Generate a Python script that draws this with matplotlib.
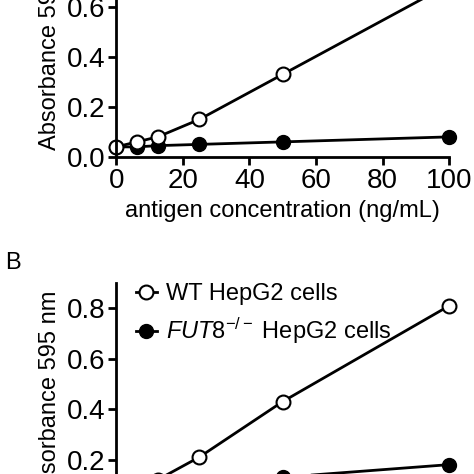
import matplotlib
matplotlib.use("Agg")
import matplotlib.pyplot as plt

plt.rcParams['font.family'] = ['Liberation Sans', 'DejaVu Sans']
plt.rcParams['mathtext.fontset'] = 'custom'
plt.rcParams['mathtext.rm'] = 'Liberation Sans'
plt.rcParams['mathtext.it'] = 'Liberation Sans:italic'

# antigen concentration (ng/mL)
conc = [0, 6.25, 12.5, 25, 50, 100]
# panel A
wt_a = [0.04, 0.06, 0.08, 0.15, 0.33, 0.69]
ko_a = [0.04, 0.04, 0.045, 0.05, 0.06, 0.08]
# panel B
wt_b = [0.04, 0.08, 0.12, 0.21, 0.43, 0.81]
ko_b = [0.04, 0.06, 0.08, 0.10, 0.13, 0.18]
yticks = [0.0, 0.2, 0.4, 0.6, 0.8]
xticks = [0, 20, 40, 60, 80, 100]

fig = plt.figure(figsize=(4.74, 4.74), dpi=100)


def style(ax):
    for s in ['top', 'right']:
        ax.spines[s].set_visible(False)
    for s in ['left', 'bottom']:
        ax.spines[s].set_linewidth(2)
    ax.set_xlim(0, 100)
    ax.set_ylim(0, 0.9)
    ax.set_xticks(xticks)
    ax.set_yticks(yticks)
    ax.set_yticklabels([f"{v:.1f}" for v in yticks])
    ax.tick_params(width=2, length=6, labelsize=20, direction='out', pad=2)
    for sp in ax.spines.values():
        sp.set_clip_on(False)


ax1 = fig.add_axes([0.245, 0.669, 0.703, 0.475])
ax1.plot(conc, wt_a, '-o', color='black', mfc='white', mec='black', ms=10, mew=1.5, lw=2, clip_on=False)
ax1.plot(conc, ko_a, '-o', color='black', ms=10, lw=2, clip_on=False, zorder=1)
style(ax1)
ax1.set_ylabel('Absorbance 595 nm', fontsize=17, labelpad=4)
ax1.set_xlabel('antigen concentration (ng/mL)', fontsize=17, labelpad=4)

ax2 = fig.add_axes([0.245, -0.076, 0.703, 0.479])
ax2.plot(conc, wt_b, '-o', color='black', mfc='white', mec='black', ms=10, mew=1.5, lw=2,
         clip_on=False, label='WT HepG2 cells')
ax2.plot(conc, ko_b, '-o', color='black', ms=10, lw=2, clip_on=False, zorder=1,
         label=r'$\mathit{FUT8}^{\mathrm{-/-}}$ HepG2 cells')
style(ax2)
ax2.set_ylabel('Absorbance 595 nm', fontsize=17, labelpad=4)
ax2.legend(loc='upper left', frameon=False, fontsize=17, handlelength=0.9,
           handletextpad=0.4, borderaxespad=0.0, labelspacing=0.45,
           bbox_to_anchor=(0.03, 1.04))

fig.text(0.01, 0.432, 'B', fontsize=17)

fig.savefig('out.png', dpi=100)
